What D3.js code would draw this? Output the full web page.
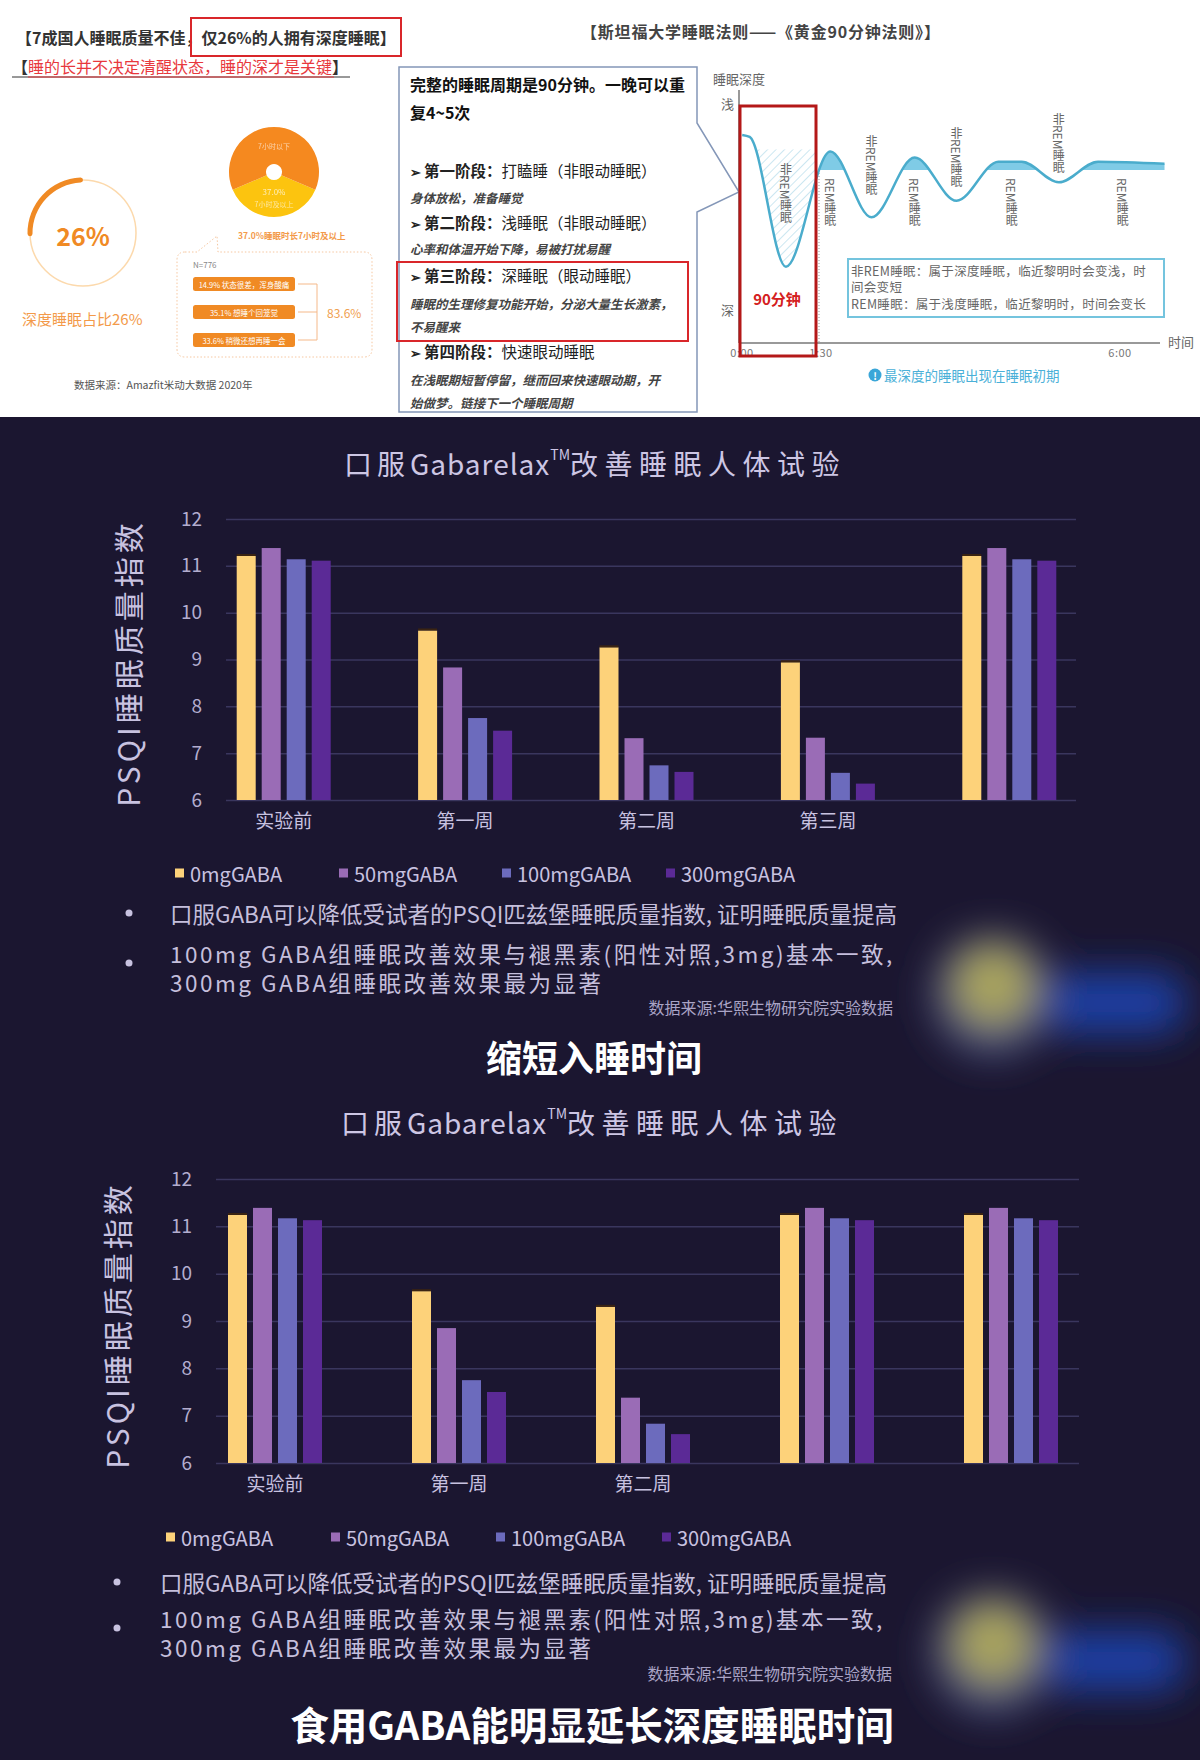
<!DOCTYPE html>
<html>
<head>
<meta charset="utf-8">
<script src="https://cdn.jsdelivr.net/npm/d3@7"></script>
<style>
  body { margin: 0; background: #fff; }
  svg { display: block; font-family: "Noto Sans CJK SC", "Noto Sans", sans-serif; }
</style>
</head>
<body>
<div id="chart"></div>
<script>
// ---------- data: bar charts ----------
const categories1 = ['实验前', '第一周', '第二周', '第三周', ''];
const categories2 = ['实验前', '第一周', '第二周', '', ''];
const seriesNames = ['0mgGABA', '50mgGABA', '100mgGABA', '300mgGABA'];
const yTicks = [6, 7, 8, 9, 10, 11, 12];

// chart 1 (PSQI by week)
const gaba0_c1 = [11.21, 9.62, 9.26, 8.94, 11.21];
const gaba50_c1 = [11.38, 8.83, 7.32, 7.33, 11.38];
const gaba100_c1 = [11.14, 7.75, 6.74, 6.58, 11.14];
const gaba300_c1 = [11.11, 7.48, 6.60, 6.35, 11.11];

// chart 2
const gaba0_c2 = [11.24, 9.63, 9.30, 11.24, 11.24];
const gaba50_c2 = [11.39, 8.85, 7.38, 11.39, 11.39];
const gaba100_c2 = [11.17, 7.75, 6.83, 11.17, 11.17];
const gaba300_c2 = [11.13, 7.50, 6.61, 11.13, 11.13];

// ---------- data: top infographic ----------
const deepSleepShare = 26;
const durationLabels = ['7小时及以上', '7小时以下'];
const durationShares = [37.0, 63.0];
const wakeShares = [14.9, 35.1, 33.6];
const wakeLabels = ['状态很差，浑身酸痛', '想睡个回笼觉', '稍微还想再睡一会'];
const wakeTotal = 83.6;
const sampleSize = 776;

// sleep depth curve (hours after falling asleep, depth 0 = light .. 100 = deep)
const sleepHours = [0.06, 0.2, 0.88, 1.67, 2.29, 2.94, 3.57, 4.2, 4.55, 5.11, 5.7, 6.7];
const sleepDepth = [15, 16, 79, 23, 55, 26, 47, 28, 28, 38, 28, 29];
const timeTickHours = [0, 1.5, 6];
const timeTickLabels = ['0:00', '1:30', '6:00'];
const nremHours = [0.88, 2.29, 3.57, 5.11];
const remHours = [1.67, 2.94, 4.4, 6.07];

const W = 1200, H = 1760, SPLIT = 417;
const barColors = ['#fdd27a', '#9a6cb6', '#6c6bbd', '#5b2a96'];

const svg = d3.select('#chart').append('svg')
  .attr('width', W).attr('height', H)
  .attr('viewBox', `0 0 ${W} ${H}`);

const defs = svg.append('defs');
defs.append('filter').attr('id', 'blur').attr('x', '-80%').attr('y', '-80%').attr('width', '260%').attr('height', '260%')
  .append('feGaussianBlur').attr('stdDeviation', 20);
const hatch = defs.append('pattern').attr('id', 'hatch')
  .attr('patternUnits', 'userSpaceOnUse').attr('width', 6).attr('height', 6)
  .attr('patternTransform', 'rotate(45)');
hatch.append('line').attr('x1', 0).attr('y1', 0).attr('x2', 0).attr('y2', 6)
  .attr('stroke', '#a9d6e8').attr('stroke-width', 1.2);

svg.append('rect').attr('width', W).attr('height', SPLIT).attr('fill', '#fff');
svg.append('rect').attr('y', SPLIT).attr('width', W).attr('height', H - SPLIT).attr('fill', '#1b1630');

// =====================================================================
// top: left column
// =====================================================================
const topG = svg.append('g');

topG.append('text')
  .attr('x', 16).attr('y', 44)
  .attr('font-size', 16).attr('font-weight', 'bold').attr('fill', '#333')
  .text('【7成国人睡眠质量不佳，仅26%的人拥有深度睡眠】');
topG.append('rect')
  .attr('x', 191).attr('y', 18).attr('width', 210).attr('height', 38)
  .attr('fill', 'none').attr('stroke', '#d9262a').attr('stroke-width', 2);

const sub = topG.append('text').attr('x', 12).attr('y', 73).attr('font-size', 16);
sub.append('tspan').attr('fill', '#333').attr('font-weight', 'bold').text('【');
sub.append('tspan').attr('fill', '#e8383d').text('睡的长并不决定清醒状态，睡的深才是关键');
sub.append('tspan').attr('fill', '#333').attr('font-weight', 'bold').text('】');
topG.append('line').attr('x1', 12).attr('x2', 350).attr('y1', 77).attr('y2', 77)
  .attr('stroke', '#333').attr('stroke-width', 1);
topG.append('line').attr('x1', 28).attr('x2', 334).attr('y1', 77).attr('y2', 77)
  .attr('stroke', '#e8383d').attr('stroke-width', 1);

// ring 26%
const ring = topG.append('g').attr('transform', 'translate(83,233)');
ring.append('circle').attr('r', 53).attr('fill', 'none')
  .attr('stroke', '#fcd9ac').attr('stroke-width', 1.5);
ring.append('path')
  .attr('d', d3.arc().innerRadius(50.5).outerRadius(55.5).cornerRadius(2.5)({
    startAngle: -deepSleepShare / 100 * 2 * Math.PI, endAngle: 0
  }))
  .attr('fill', '#f08a24');
ring.append('text').attr('y', 2).attr('text-anchor', 'middle').attr('dominant-baseline', 'central')
  .attr('font-size', 25).attr('font-weight', 'bold').attr('fill', '#f08a24')
  .text(deepSleepShare + '%');
topG.append('text').attr('x', 22).attr('y', 325)
  .attr('font-size', 15).attr('fill', '#f39a4a')
  .text('深度睡眠占比' + deepSleepShare + '%');

// pie
const pieG = topG.append('g').attr('transform', 'translate(274,172)');
const start = Math.PI * (1 - durationShares[0] / 100);
const pie = d3.pie().sort(null).startAngle(start).endAngle(start + 2 * Math.PI);
const pieArc = d3.arc().innerRadius(8).outerRadius(45);
pieG.selectAll('path').data(pie(durationShares)).join('path')
  .attr('d', pieArc)
  .attr('fill', (d, i) => i === 0 ? '#fcc40f' : '#f5891f');
pieG.append('text').attr('y', -26).attr('text-anchor', 'middle').attr('dominant-baseline', 'central')
  .attr('font-size', 7).attr('fill', '#fff').attr('opacity', 0.6).text(durationLabels[1]);
pieG.append('text').attr('y', 19).attr('text-anchor', 'middle').attr('dominant-baseline', 'central')
  .attr('font-size', 8).attr('fill', '#fff').attr('opacity', 0.7).text(durationShares[0].toFixed(1) + '%');
pieG.append('text').attr('y', 32).attr('text-anchor', 'middle').attr('dominant-baseline', 'central')
  .attr('font-size', 7).attr('fill', '#fff').attr('opacity', 0.6).text(durationLabels[0]);

topG.append('text').attr('x', 238).attr('y', 239)
  .attr('font-size', 8.5).attr('font-weight', 'bold').attr('fill', '#f39a4a')
  .text(durationShares[0].toFixed(1) + '%睡眠时长' + durationLabels[0]);

// dotted bubble
topG.append('path')
  .attr('d', 'M185,252 H197 L217,236 L218,252 H364 Q372,252 372,260 V349 Q372,357 364,357 H185 Q177,357 177,349 V260 Q177,252 185,252 Z')
  .attr('fill', 'none').attr('stroke', '#f6c7a0').attr('stroke-width', 1).attr('stroke-dasharray', '1.5 2');
topG.append('text').attr('x', 193).attr('y', 268).attr('font-size', 8).attr('fill', '#888')
  .text('N=' + sampleSize);

const boxY = d3.scalePoint().domain(d3.range(wakeShares.length)).range([284, 340]);
const boxes = topG.selectAll('.wake').data(wakeShares).join('g').attr('class', 'wake');
boxes.append('rect')
  .attr('x', 193).attr('y', (d, i) => boxY(i) - 7).attr('width', 102).attr('height', 14).attr('rx', 2.5)
  .attr('fill', '#f08a24');
boxes.append('text')
  .attr('x', 244).attr('y', (d, i) => boxY(i)).attr('text-anchor', 'middle').attr('dominant-baseline', 'central')
  .attr('font-size', 7.5).attr('fill', '#fff')
  .text((d, i) => d.toFixed(1) + '% ' + wakeLabels[i]);
boxes.append('line')
  .attr('x1', 298).attr('x2', 317).attr('y1', (d, i) => boxY(i)).attr('y2', (d, i) => boxY(i))
  .attr('stroke', '#f5b98a').attr('stroke-width', 1);
topG.append('line').attr('x1', 317).attr('x2', 317).attr('y1', boxY(0)).attr('y2', boxY(2))
  .attr('stroke', '#f5b98a').attr('stroke-width', 1);
topG.append('text').attr('x', 327).attr('y', 312).attr('dominant-baseline', 'central')
  .attr('font-size', 12).attr('fill', '#f0a050').text(wakeTotal.toFixed(1) + '%');

topG.append('text').attr('x', 74).attr('y', 389).attr('font-size', 10.5).attr('fill', '#555')
  .text('数据来源：Amazfit米动大数据 2020年');

// =====================================================================
// top: middle text box
// =====================================================================
topG.append('text').attr('x', 581).attr('y', 38)
  .attr('font-size', 16).attr('font-weight', 'bold').attr('fill', '#444').attr('letter-spacing', 0.8)
  .text('【斯坦福大学睡眠法则——《黄金90分钟法则》】');

topG.append('path')
  .attr('d', 'M399,67 H697 V123 L739,192 L697,212 V412 H399 Z')
  .attr('fill', '#fff').attr('stroke', '#8497b8').attr('stroke-width', 1.5);

topG.append('text').attr('x', 410).attr('y', 91)
  .attr('font-size', 16).attr('font-weight', 'bold').attr('fill', '#111')
  .text('完整的睡眠周期是90分钟。一晚可以重');
topG.append('text').attr('x', 410).attr('y', 119)
  .attr('font-size', 16).attr('font-weight', 'bold').attr('fill', '#111')
  .text('复4~5次');

const stages = [
  { y: 177, head: '第一阶段：', rest: '打瞌睡（非眼动睡眠）', notes: [[203, '身体放松，准备睡觉']] },
  { y: 229, head: '第二阶段：', rest: '浅睡眠（非眼动睡眠）', notes: [[254, '心率和体温开始下降，易被打扰易醒']] },
  { y: 282, head: '第三阶段：', rest: '深睡眠（眼动睡眠）', notes: [[309, '睡眠的生理修复功能开始，分泌大量生长激素，'], [332, '不易醒来']] },
  { y: 358, head: '第四阶段：', rest: '快速眼动睡眠', notes: [[385, '在浅眠期短暂停留，继而回来快速眼动期，开'], [408, '始做梦。链接下一个睡眠周期']] }
];
stages.forEach(s => {
  const t = topG.append('text').attr('x', 410).attr('y', s.y).attr('font-size', 15.5).attr('fill', '#222');
  t.append('tspan').attr('font-size', 13).attr('font-weight', 'bold').text('➢ ');
  t.append('tspan').attr('font-weight', 'bold').text(s.head);
  t.append('tspan').text(s.rest);
  s.notes.forEach(n => {
    topG.append('text').attr('x', 410).attr('y', n[0])
      .attr('font-size', 12.5).attr('font-style', 'italic').attr('font-weight', 'bold').attr('fill', '#444')
      .text(n[1]);
  });
});
topG.append('rect').attr('x', 397).attr('y', 262).attr('width', 291).attr('height', 79)
  .attr('fill', 'none').attr('stroke', '#d9262a').attr('stroke-width', 2);

// =====================================================================
// top: sleep cycle curve
// =====================================================================
const tx = d3.scaleLinear().domain([0, 1.5, 6]).range([739, 819, 1118]);
const dy = d3.scaleLinear().domain([0, 100]).range([104, 310]);
const curvePts = sleepHours.map((h, i) => [h, sleepDepth[i]]);

const sc = topG.append('g');
sc.append('text').attr('x', 713).attr('y', 84).attr('font-size', 13).attr('fill', '#666').text('睡眠深度');
sc.append('text').attr('x', 721).attr('y', 109).attr('font-size', 13).attr('fill', '#666').text('浅');
sc.append('text').attr('x', 721).attr('y', 315).attr('font-size', 13).attr('fill', '#666').text('深');
sc.append('text').attr('x', 1168).attr('y', 347).attr('font-size', 13).attr('fill', '#666').text('时间');

sc.append('line').attr('x1', 739).attr('x2', 739).attr('y1', 90).attr('y2', 343)
  .attr('stroke', '#777').attr('stroke-width', 1.5);
sc.append('line').attr('x1', 739).attr('x2', 1160).attr('y1', 343).attr('y2', 343)
  .attr('stroke', '#777').attr('stroke-width', 1.5);
sc.selectAll('.tt').data(timeTickHours).join('text').attr('class', 'tt')
  .attr('x', d => tx(d) + (d === 0 ? 3 : 2)).attr('y', 357).attr('text-anchor', 'middle')
  .attr('font-size', 11).attr('fill', '#777').attr('letter-spacing', 0.5)
  .text((d, i) => timeTickLabels[i]);
sc.append('line').attr('x1', tx(1.5)).attr('x2', tx(1.5)).attr('y1', 170).attr('y2', 343)
  .attr('stroke', '#999').attr('stroke-width', 1).attr('stroke-dasharray', '1 2');

// shaded REM peaks above the level line
const level = 32;
defs.append('clipPath').attr('id', 'peakClip').append('rect')
  .attr('x', tx(1.5)).attr('y', 0).attr('width', 360).attr('height', dy(level));
defs.append('clipPath').attr('id', 'dipClip').append('rect')
  .attr('x', 752).attr('y', dy(22)).attr('width', 65).attr('height', 200);
sc.append('path').datum(curvePts)
  .attr('clip-path', 'url(#peakClip)')
  .attr('d', d3.area().curve(d3.curveMonotoneX).x(d => tx(d[0])).y0(dy(level)).y1(d => dy(d[1])))
  .attr('fill', '#7fcbe6');
sc.append('path').datum(curvePts)
  .attr('clip-path', 'url(#dipClip)')
  .attr('d', d3.area().curve(d3.curveMonotoneX).x(d => tx(d[0])).y0(dy(22)).y1(d => dy(d[1])))
  .attr('fill', 'url(#hatch)');
sc.append('path').datum(curvePts)
  .attr('d', d3.line().curve(d3.curveMonotoneX).x(d => tx(d[0])).y(d => dy(d[1])))
  .attr('fill', 'none').attr('stroke', '#4aaccc').attr('stroke-width', 2.5);

const nremTops = [163, 135, 127, 113];
sc.selectAll('.nrem').data(nremHours).join('text').attr('class', 'nrem')
  .attr('x', d => tx(d)).attr('y', (d, i) => nremTops[i])
  .style('writing-mode', 'vertical-rl')
  .attr('font-size', 12).attr('fill', '#666').text('非REM睡眠');
sc.selectAll('.rem').data(remHours).join('text').attr('class', 'rem')
  .attr('x', d => tx(d)).attr('y', 178)
  .style('writing-mode', 'vertical-rl')
  .attr('font-size', 12).attr('fill', '#666').text('REM睡眠');

sc.append('rect').attr('x', 740).attr('y', 106).attr('width', 76).attr('height', 250)
  .attr('fill', 'none').attr('stroke', '#b41818').attr('stroke-width', 3);
sc.append('text').attr('x', 777).attr('y', 305).attr('text-anchor', 'middle')
  .attr('font-size', 15).attr('font-weight', 'bold').attr('fill', '#d42020').text('90分钟');

sc.append('rect').attr('x', 848).attr('y', 259).attr('width', 316).attr('height', 58)
  .attr('fill', '#fff').attr('stroke', '#74c4de').attr('stroke-width', 2);
[[276, '非REM睡眠：属于深度睡眠，临近黎明时会变浅，时'], [292, '间会变短'], [309, 'REM睡眠：属于浅度睡眠，临近黎明时，时间会变长']]
  .forEach(l => sc.append('text').attr('x', 851).attr('y', l[0])
    .attr('font-size', 12.5).attr('fill', '#666').attr('letter-spacing', 0.3).text(l[1]));

sc.append('circle').attr('cx', 875).attr('cy', 375).attr('r', 6.5).attr('fill', '#3aa6d8');
sc.append('text').attr('x', 875).attr('y', 375).attr('text-anchor', 'middle').attr('dominant-baseline', 'central')
  .attr('font-size', 10).attr('font-weight', 'bold').attr('fill', '#fff').text('!');
sc.append('text').attr('x', 884).attr('y', 375).attr('dominant-baseline', 'central')
  .attr('font-size', 13.5).attr('fill', '#4ab0d8').text('最深度的睡眠出现在睡眠初期');

// =====================================================================
// bottom: bar charts
// =====================================================================
function drawBarChart(o, categories, series) {
  const g = svg.append('g');
  const x = d3.scaleBand().domain(d3.range(categories.length)).range(o.xRange);
  const y = d3.scaleLinear().domain([6, 12]).range([o.yBottom, o.yTop]);
  const inner = d3.scaleBand().domain(seriesNames).range([0, 94]).paddingInner(0.24);

  // blurred lamp glow at the right
  const glow = g.append('g').attr('filter', 'url(#blur)');
  glow.append('rect').attr('x', 1045).attr('y', o.glowY - 14).attr('width', 140).attr('height', 60).attr('rx', 24)
    .attr('fill', '#1f40a6');
  glow.append('circle').attr('cx', 993).attr('cy', o.glowY + 8).attr('r', 60).attr('fill', '#4a5282');
  glow.append('circle').attr('cx', 993).attr('cy', o.glowY - 2).attr('r', 40).attr('fill', '#aba65c');

  // title
  const t = g.append('text').attr('x', o.titleX).attr('y', o.titleY)
    .attr('text-anchor', 'middle').attr('dominant-baseline', 'central')
    .attr('font-size', 28).attr('fill', '#cdc6e4');
  t.append('tspan').attr('letter-spacing', 5).text('口服');
  t.append('tspan').attr('letter-spacing', 1).text('Gabarelax');
  t.append('tspan').attr('font-size', 14).attr('dy', -9).text('TM');
  t.append('tspan').attr('dy', 9).attr('letter-spacing', 6.5).text('改善睡眠人体试验');

  // y axis + grid
  const ya = g.append('g').attr('transform', `translate(${o.gridLeft},0)`)
    .call(d3.axisLeft(y).tickValues(yTicks).tickFormat(d3.format('d'))
      .tickSize(-(o.gridRight - o.gridLeft)).tickPadding(24));
  ya.select('.domain').remove();
  ya.selectAll('line').attr('stroke', '#3a365e').attr('stroke-width', 1.5);
  ya.selectAll('text').attr('fill', '#b3adcf').attr('font-size', 19)
    .attr('font-family', '"Noto Sans CJK SC", sans-serif');

  g.append('text')
    .attr('transform', `translate(${o.axisTitleX},${o.axisTitleY}) rotate(-90)`)
    .attr('text-anchor', 'middle').attr('dominant-baseline', 'central')
    .attr('font-size', 30).attr('letter-spacing', 4).attr('fill', '#c8c2e0')
    .text('PSQI睡眠质量指数');

  // bars
  const groups = g.selectAll('.grp').data(d3.range(categories.length)).join('g').attr('class', 'grp')
    .attr('transform', i => `translate(${x(i) + (x.bandwidth() - 94) / 2},0)`);
  groups.selectAll('rect')
    .data(i => series.map((vals, k) => ({ k, v: vals[i] })))
    .join('rect')
    .attr('x', d => inner(seriesNames[d.k]))
    .attr('width', inner.bandwidth())
    .attr('y', d => y(d.v))
    .attr('height', d => y(6) - y(d.v))
    .attr('fill', d => barColors[d.k]);
  groups.append('rect')
    .attr('x', inner(seriesNames[0])).attr('width', inner.bandwidth())
    .attr('y', i => y(series[0][i]) - 2).attr('height', 2)
    .attr('fill', '#3b2412');

  // category axis
  const xa = g.append('g').attr('transform', `translate(0,${o.yBottom})`)
    .call(d3.axisBottom(x).tickSize(0).tickPadding(15).tickFormat(i => categories[i]));
  xa.select('.domain').remove();
  xa.selectAll('text').attr('fill', '#c8c2e0').attr('font-size', 19)
    .attr('font-family', '"Noto Sans CJK SC", sans-serif');

  // legend
  const lg = g.selectAll('.lg').data(seriesNames).join('g').attr('class', 'lg')
    .attr('transform', (d, i) => `translate(${o.legendXs[i]},${o.legendY})`);
  lg.append('rect').attr('y', -4.5).attr('width', 9).attr('height', 9).attr('fill', (d, i) => barColors[i]);
  lg.append('text').attr('x', 15).attr('dominant-baseline', 'central')
    .attr('font-size', 20).attr('fill', '#c8c2e0').text(d => d);

  // bullets
  g.append('circle').attr('cx', o.dotX).attr('cy', o.lines[0]).attr('r', 3.5).attr('fill', '#c8c2e0');
  g.append('circle').attr('cx', o.dotX).attr('cy', o.dot2).attr('r', 3.5).attr('fill', '#c8c2e0');
  g.append('text').attr('x', o.textX).attr('y', o.lines[0]).attr('dominant-baseline', 'central')
    .attr('font-size', 22.5).attr('fill', '#c5bfdc')
    .text('口服GABA可以降低受试者的PSQI匹兹堡睡眠质量指数, 证明睡眠质量提高');
  const b2 = g.append('text').attr('x', o.textX).attr('y', o.lines[1]).attr('dominant-baseline', 'central')
    .attr('font-size', 22.5).attr('fill', '#c5bfdc').attr('letter-spacing', 2.5);
  b2.append('tspan').text('100mg GABA组睡眠改善效果与褪黑素(阳性对照,3mg)基本一致,');
  b2.append('tspan').attr('x', o.textX).attr('dy', o.lines[2] - o.lines[1]).text('300mg GABA组睡眠改善效果最为显著');
  g.append('text').attr('x', o.sourceX).attr('y', o.sourceY).attr('text-anchor', 'end')
    .attr('dominant-baseline', 'central')
    .attr('font-size', 16).attr('fill', '#aaa4c6').text('数据来源:华熙生物研究院实验数据');

  // heading
  g.append('text').attr('x', o.headX).attr('y', o.headY).attr('text-anchor', 'middle')
    .attr('dominant-baseline', 'central')
    .attr('font-size', o.headSize).attr('font-weight', 'bold').attr('fill', '#fff')
    .text(o.heading);
}

drawBarChart({
  xRange: [193, 1100], yBottom: 800, yTop: 519, gridLeft: 226, gridRight: 1076,
  titleX: 595, titleY: 463, axisTitleX: 127, axisTitleY: 663,
  legendY: 873, legendXs: [175, 339, 502, 666],
  dotX: 129, textX: 170, lines: [913, 953, 982], dot2: 963,
  sourceX: 893, sourceY: 1007,
  heading: '缩短入睡时间', headX: 594, headY: 1056, headSize: 36, glowY: 987
}, categories1, [gaba0_c1, gaba50_c1, gaba100_c1, gaba300_c1]);

drawBarChart({
  xRange: [183, 1103], yBottom: 1463, yTop: 1179, gridLeft: 216, gridRight: 1079,
  titleX: 592, titleY: 1122, axisTitleX: 116, axisTitleY: 1325,
  legendY: 1537, legendXs: [166, 331, 496, 662],
  dotX: 117, textX: 160, lines: [1582, 1618, 1647], dot2: 1628,
  sourceX: 892, sourceY: 1673,
  heading: '食用GABA能明显延长深度睡眠时间', headX: 592, headY: 1723, headSize: 38.5, glowY: 1645
}, categories2, [gaba0_c2, gaba50_c2, gaba100_c2, gaba300_c2]);
</script>
</body>
</html>
